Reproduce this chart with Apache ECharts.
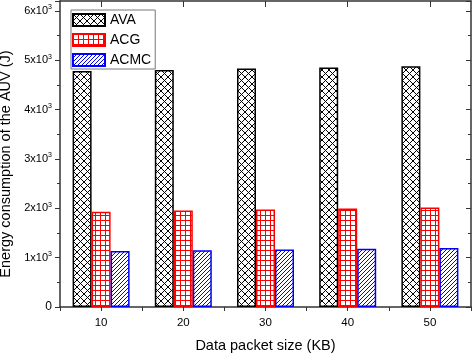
<!DOCTYPE html>
<html>
<head>
<meta charset="utf-8">
<script src="https://cdn.jsdelivr.net/npm/echarts@6/dist/echarts.min.js"></script>
<style>
  html, body { margin: 0; padding: 0; background: #fff; }
  #chart { width: 474px; height: 353px; }
</style>
</head>
<body>
<div id="chart"></div>
<script>
    // data
    const categories = ['10', '20', '30', '40', '50'];
    const avaValues = [4780, 4800, 4830, 4855, 4880];
    const acgValues = [1930, 1955, 1975, 1995, 2015];
    const acmcValues = [1135, 1150, 1165, 1178, 1197];
    const yTicks = [0, 1000, 2000, 3000, 4000, 5000, 6000];

    const FONT = 'Liberation Sans, Arial, sans-serif';
    const AXIS_COLOR = '#333';

    // hatch fills (size the canvas first, it resets the context)
    function makePattern(kind, color) {
        const c = document.createElement('canvas');
        const size = kind === 'cross' ? 7 : (kind === 'grid' ? 5 : 4);
        c.width = c.height = size;
        const ctx = c.getContext('2d');
        ctx.fillStyle = '#fff';
        ctx.fillRect(0, 0, size, size);
        ctx.strokeStyle = color;
        ctx.lineWidth = 1;
        ctx.beginPath();
        if (kind === 'cross') {
            ctx.moveTo(0, 0); ctx.lineTo(7, 7);
            ctx.moveTo(7, 0); ctx.lineTo(0, 7);
        } else if (kind === 'grid') {
            ctx.moveTo(0, 0.5); ctx.lineTo(5, 0.5);
            ctx.moveTo(0.5, 0); ctx.lineTo(0.5, 5);
        } else {
            ctx.moveTo(0, 4); ctx.lineTo(4, 0);
            ctx.moveTo(-1, 1); ctx.lineTo(1, -1);
            ctx.moveTo(3, 5); ctx.lineTo(5, 3);
        }
        ctx.stroke();
        return { image: c, repeat: 'repeat' };
    }

    function yLabel(v) {
        if (v === 0) return '0';
        if (yTicks.indexOf(v) < 0) return '';
        return '{b|' + (v / 1000) + 'x10}{s|3}';
    }

    const chart = echarts.init(document.getElementById('chart'));
    const baseX = {
        type: 'category',
        data: categories,
        gridIndex: 0,
        axisLine: { show: true, onZero: false, lineStyle: { color: AXIS_COLOR, width: 1.5 } },
        splitLine: { show: false }
    };
    const baseY = {
        type: 'value',
        min: 0,
        max: 6200,
        interval: 1000,
        axisLine: { show: true, onZero: false, lineStyle: { color: AXIS_COLOR, width: 1.5 } },
        splitLine: { show: false },
        minorTick: { show: true, splitNumber: 2, length: 3, lineStyle: { color: AXIS_COLOR } }
    };

    const option = {
        animation: false,
        textStyle: { fontFamily: FONT },
        grid: { left: 60, right: 3, top: 1, bottom: 46, containLabel: false, outerBoundsMode: 'none' },
        legend: {
            orient: 'vertical',
            left: 71,
            top: 10,
            padding: [3, 4, 2, 1],
            borderColor: '#777',
            borderWidth: 1,
            itemWidth: 32,
            itemHeight: 12,
            itemGap: 6,
            icon: 'rect',
            textStyle: { fontSize: 14, color: '#000', fontFamily: FONT, lineHeight: 12 },
            data: ['AVA', 'ACG', 'ACMC']
        },
        xAxis: [
            Object.assign({}, baseX, {
                position: 'bottom',
                name: 'Data packet size (KB)',
                nameLocation: 'middle',
                nameGap: 31,
                nameTextStyle: { fontSize: 14.5, color: '#000' },
                axisTick: { show: true, alignWithLabel: true, length: 4, lineStyle: { color: AXIS_COLOR } },
                axisLabel: { fontSize: 11.5, color: '#000', margin: 10 }
            }),
            Object.assign({}, baseX, {
                position: 'bottom',
                axisLine: { show: false },
                axisTick: { show: true, length: 3, lineStyle: { color: AXIS_COLOR } },
                axisLabel: { show: false }
            }),
            Object.assign({}, baseX, {
                position: 'top',
                axisTick: { show: true, inside: true, alignWithLabel: true, length: 6, lineStyle: { color: AXIS_COLOR } },
                axisLabel: { show: false }
            }),
            Object.assign({}, baseX, {
                position: 'top',
                axisLine: { show: false },
                axisTick: { show: true, inside: true, length: 4, lineStyle: { color: AXIS_COLOR } },
                axisLabel: { show: false }
            })
        ],
        yAxis: [
            Object.assign({}, baseY, {
                position: 'left',
                name: 'Energy consumption of the AUV (J)',
                nameLocation: 'middle',
                nameGap: 43,
                nameTextStyle: { fontSize: 14.5, color: '#000', padding: [0, 20, 0, 0] },
                axisTick: { show: true, length: 5, lineStyle: { color: AXIS_COLOR } },
                axisLabel: {
                    color: '#000',
                    margin: 8,
                    showMaxLabel: false,
                    formatter: yLabel,
                    rich: {
                        b: { fontSize: 11, color: '#000', fontFamily: FONT },
                        s: { fontSize: 7, color: '#000', fontFamily: FONT, padding: [0, 0, 7, 0] }
                    }
                }
            }),
            Object.assign({}, baseY, {
                position: 'right',
                axisTick: { show: true, inside: true, length: 5, lineStyle: { color: AXIS_COLOR } },
                minorTick: { show: true, splitNumber: 2, length: 3, lineStyle: { color: AXIS_COLOR } },
                axisLabel: { show: false }
            })
        ],
        series: [
            {
                name: 'AVA',
                type: 'bar',
                data: avaValues,
                barWidth: 19,
                barGap: '0%',
                itemStyle: { color: makePattern('cross', '#000'), borderColor: '#000', borderWidth: 1.5 }
            },
            {
                name: 'ACG',
                type: 'bar',
                data: acgValues,
                barWidth: 19,
                barGap: '0%',
                itemStyle: { color: makePattern('grid', '#ff0000'), borderColor: '#ff0000', borderWidth: 1.5 }
            },
            {
                name: 'ACMC',
                type: 'bar',
                data: acmcValues,
                barWidth: 19,
                barGap: '0%',
                itemStyle: { color: makePattern('diag', '#0000ff'), borderColor: '#0000ff', borderWidth: 1.5 }
            }
        ]
    };
    chart.setOption(option);
</script>
</body>
</html>
